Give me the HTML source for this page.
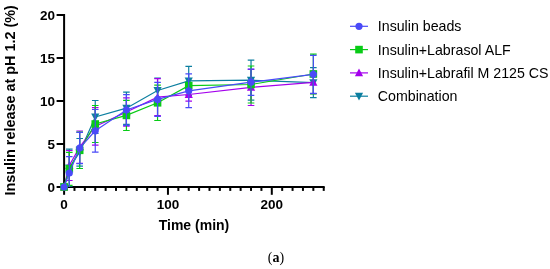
<!DOCTYPE html>
<html><head><meta charset="utf-8"><style>
html,body{margin:0;padding:0;background:#fff;}
body{width:550px;height:269px;overflow:hidden;}
svg{display:block;}
.tk{font-family:"Liberation Sans",Arial,sans-serif;font-weight:bold;font-size:13.5px;fill:#000;}
.ax{font-family:"Liberation Sans",Arial,sans-serif;font-weight:bold;font-size:14px;fill:#000;}
.lg{font-family:"Liberation Sans",Arial,sans-serif;font-size:14.2px;fill:#000;}
.cap{font-family:"Liberation Serif","Times New Roman",serif;font-size:14px;fill:#000;}
</style></head><body>
<svg width="550" height="269" viewBox="0 0 550 269">
<defs><clipPath id="pc"><rect x="0" y="0" width="550" height="187"/></clipPath></defs>
<rect width="550" height="269" fill="#fff"/>
<path d="M64.1,14V194.8" stroke="#000" stroke-width="2" fill="none"/>
<path d="M56.6,187H324.7" stroke="#000" stroke-width="2" fill="none"/>
<path d="M56.6,144.00H64.1" stroke="#000" stroke-width="2"/>
<path d="M56.6,101.00H64.1" stroke="#000" stroke-width="2"/>
<path d="M56.6,58.00H64.1" stroke="#000" stroke-width="2"/>
<path d="M56.6,15.00H64.1" stroke="#000" stroke-width="2"/>
<path d="M74.48,187V190.9" stroke="#000" stroke-width="2"/>
<path d="M84.87,187V190.9" stroke="#000" stroke-width="2"/>
<path d="M95.25,187V190.9" stroke="#000" stroke-width="2"/>
<path d="M105.64,187V190.9" stroke="#000" stroke-width="2"/>
<path d="M116.02,187V190.9" stroke="#000" stroke-width="2"/>
<path d="M126.41,187V190.9" stroke="#000" stroke-width="2"/>
<path d="M136.79,187V190.9" stroke="#000" stroke-width="2"/>
<path d="M147.18,187V190.9" stroke="#000" stroke-width="2"/>
<path d="M157.56,187V190.9" stroke="#000" stroke-width="2"/>
<path d="M167.95,187V194.8" stroke="#000" stroke-width="2"/>
<path d="M178.33,187V190.9" stroke="#000" stroke-width="2"/>
<path d="M188.72,187V190.9" stroke="#000" stroke-width="2"/>
<path d="M199.10,187V190.9" stroke="#000" stroke-width="2"/>
<path d="M209.49,187V190.9" stroke="#000" stroke-width="2"/>
<path d="M219.88,187V190.9" stroke="#000" stroke-width="2"/>
<path d="M230.26,187V190.9" stroke="#000" stroke-width="2"/>
<path d="M240.64,187V190.9" stroke="#000" stroke-width="2"/>
<path d="M251.03,187V190.9" stroke="#000" stroke-width="2"/>
<path d="M261.41,187V190.9" stroke="#000" stroke-width="2"/>
<path d="M271.80,187V194.8" stroke="#000" stroke-width="2"/>
<path d="M282.19,187V190.9" stroke="#000" stroke-width="2"/>
<path d="M292.57,187V190.9" stroke="#000" stroke-width="2"/>
<path d="M302.95,187V190.9" stroke="#000" stroke-width="2"/>
<path d="M313.34,187V190.9" stroke="#000" stroke-width="2"/>
<path d="M323.73,187V190.9" stroke="#000" stroke-width="2"/>
<g clip-path="url(#pc)">
<path d="M69.29,149.20V186.80M65.99,149.20H72.59M65.99,186.80H72.59" stroke="#0c7fa0" stroke-width="1.2" fill="none"/>
<path d="M79.68,138.50V166.10M76.38,138.50H82.98M76.38,166.10H82.98" stroke="#0c7fa0" stroke-width="1.2" fill="none"/>
<path d="M95.25,100.50V133.50M91.95,100.50H98.55M91.95,133.50H98.55" stroke="#0c7fa0" stroke-width="1.2" fill="none"/>
<path d="M126.41,92.10V124.30M123.11,92.10H129.71M123.11,124.30H129.71" stroke="#0c7fa0" stroke-width="1.2" fill="none"/>
<path d="M157.56,78.00V103.00M154.26,78.00H160.87M154.26,103.00H160.87" stroke="#0c7fa0" stroke-width="1.2" fill="none"/>
<path d="M188.72,66.40V95.40M185.42,66.40H192.02M185.42,95.40H192.02" stroke="#0c7fa0" stroke-width="1.2" fill="none"/>
<path d="M251.03,60.20V100.20M247.73,60.20H254.33M247.73,100.20H254.33" stroke="#0c7fa0" stroke-width="1.2" fill="none"/>
<path d="M313.34,67.60V97.60M310.04,67.60H316.64M310.04,97.60H316.64" stroke="#0c7fa0" stroke-width="1.2" fill="none"/>
<polyline points="64.10,187.00 69.29,168.00 79.68,152.30 95.25,117.00 126.41,108.20 157.56,90.50 188.72,80.90 251.03,80.20 313.34,82.60" stroke="#0c7fa0" stroke-width="1.2" fill="none"/>
</g><g>
<path d="M64.10,191.30L68.20,183.60L60.00,183.60Z" fill="#0c7fa0"/>
<path d="M69.29,172.30L73.39,164.60L65.19,164.60Z" fill="#0c7fa0"/>
<path d="M79.68,156.60L83.78,148.90L75.58,148.90Z" fill="#0c7fa0"/>
<path d="M95.25,121.30L99.35,113.60L91.16,113.60Z" fill="#0c7fa0"/>
<path d="M126.41,112.50L130.51,104.80L122.31,104.80Z" fill="#0c7fa0"/>
<path d="M157.56,94.80L161.66,87.10L153.47,87.10Z" fill="#0c7fa0"/>
<path d="M188.72,85.20L192.82,77.50L184.62,77.50Z" fill="#0c7fa0"/>
<path d="M251.03,84.50L255.13,76.80L246.93,76.80Z" fill="#0c7fa0"/>
<path d="M313.34,86.90L317.44,79.20L309.24,79.20Z" fill="#0c7fa0"/>
</g>
<g clip-path="url(#pc)">
<path d="M69.29,150.50V180.50M65.99,150.50H72.59M65.99,180.50H72.59" stroke="#a400ec" stroke-width="1.2" fill="none"/>
<path d="M79.68,131.00V163.40M76.38,131.00H82.98M76.38,163.40H82.98" stroke="#a400ec" stroke-width="1.2" fill="none"/>
<path d="M95.25,107.60V145.20M91.95,107.60H98.55M91.95,145.20H98.55" stroke="#a400ec" stroke-width="1.2" fill="none"/>
<path d="M126.41,97.80V126.20M123.11,97.80H129.71M123.11,126.20H129.71" stroke="#a400ec" stroke-width="1.2" fill="none"/>
<path d="M157.56,78.70V115.70M154.26,78.70H160.87M154.26,115.70H160.87" stroke="#a400ec" stroke-width="1.2" fill="none"/>
<path d="M188.72,87.90V101.10M185.42,87.90H192.02M185.42,101.10H192.02" stroke="#a400ec" stroke-width="1.2" fill="none"/>
<path d="M251.03,69.30V105.50M247.73,69.30H254.33M247.73,105.50H254.33" stroke="#a400ec" stroke-width="1.2" fill="none"/>
<path d="M313.34,71.10V93.70M310.04,71.10H316.64M310.04,93.70H316.64" stroke="#a400ec" stroke-width="1.2" fill="none"/>
<polyline points="64.10,187.00 69.29,165.50 79.68,147.20 95.25,126.40 126.41,112.00 157.56,97.20 188.72,94.50 251.03,87.40 313.34,82.40" stroke="#a400ec" stroke-width="1.2" fill="none"/>
</g><g>
<path d="M64.10,182.70L68.20,190.40L60.00,190.40Z" fill="#a400ec"/>
<path d="M69.29,161.20L73.39,168.90L65.19,168.90Z" fill="#a400ec"/>
<path d="M79.68,142.90L83.78,150.60L75.58,150.60Z" fill="#a400ec"/>
<path d="M95.25,122.10L99.35,129.80L91.16,129.80Z" fill="#a400ec"/>
<path d="M126.41,107.70L130.51,115.40L122.31,115.40Z" fill="#a400ec"/>
<path d="M157.56,92.90L161.66,100.60L153.47,100.60Z" fill="#a400ec"/>
<path d="M188.72,90.20L192.82,97.90L184.62,97.90Z" fill="#a400ec"/>
<path d="M251.03,83.10L255.13,90.80L246.93,90.80Z" fill="#a400ec"/>
<path d="M313.34,78.10L317.44,85.80L309.24,85.80Z" fill="#a400ec"/>
</g>
<g clip-path="url(#pc)">
<path d="M69.29,152.30V185.30M65.99,152.30H72.59M65.99,185.30H72.59" stroke="#08cb16" stroke-width="1.2" fill="none"/>
<path d="M79.68,132.10V168.50M76.38,132.10H82.98M76.38,168.50H82.98" stroke="#08cb16" stroke-width="1.2" fill="none"/>
<path d="M95.25,105.50V142.50M91.95,105.50H98.55M91.95,142.50H98.55" stroke="#08cb16" stroke-width="1.2" fill="none"/>
<path d="M126.41,100.30V130.50M123.11,100.30H129.71M123.11,130.50H129.71" stroke="#08cb16" stroke-width="1.2" fill="none"/>
<path d="M157.56,85.10V120.50M154.26,85.10H160.87M154.26,120.50H160.87" stroke="#08cb16" stroke-width="1.2" fill="none"/>
<path d="M188.72,82.60V88.60M185.42,82.60H192.02M185.42,88.60H192.02" stroke="#08cb16" stroke-width="1.2" fill="none"/>
<path d="M251.03,66.00V103.00M247.73,66.00H254.33M247.73,103.00H254.33" stroke="#08cb16" stroke-width="1.2" fill="none"/>
<path d="M313.34,54.20V93.80M310.04,54.20H316.64M310.04,93.80H316.64" stroke="#08cb16" stroke-width="1.2" fill="none"/>
<polyline points="64.10,187.00 69.29,168.80 79.68,150.30 95.25,124.00 126.41,115.40 157.56,102.80 188.72,85.60 251.03,84.50 313.34,74.00" stroke="#08cb16" stroke-width="1.2" fill="none"/>
</g><g>
<rect x="60.30" y="183.20" width="7.6" height="7.6" fill="#08cb16"/>
<rect x="65.49" y="165.00" width="7.6" height="7.6" fill="#08cb16"/>
<rect x="75.88" y="146.50" width="7.6" height="7.6" fill="#08cb16"/>
<rect x="91.45" y="120.20" width="7.6" height="7.6" fill="#08cb16"/>
<rect x="122.61" y="111.60" width="7.6" height="7.6" fill="#08cb16"/>
<rect x="153.76" y="99.00" width="7.6" height="7.6" fill="#08cb16"/>
<rect x="184.92" y="81.80" width="7.6" height="7.6" fill="#08cb16"/>
<rect x="247.23" y="80.70" width="7.6" height="7.6" fill="#08cb16"/>
<rect x="309.54" y="70.20" width="7.6" height="7.6" fill="#08cb16"/>
</g>
<g clip-path="url(#pc)">
<path d="M69.29,156.70V189.30M65.99,156.70H72.59M65.99,189.30H72.59" stroke="#4a4af8" stroke-width="1.2" fill="none"/>
<path d="M79.68,132.40V163.60M76.38,132.40H82.98M76.38,163.60H82.98" stroke="#4a4af8" stroke-width="1.2" fill="none"/>
<path d="M95.25,109.50V152.10M91.95,109.50H98.55M91.95,152.10H98.55" stroke="#4a4af8" stroke-width="1.2" fill="none"/>
<path d="M126.41,94.70V125.30M123.11,94.70H129.71M123.11,125.30H129.71" stroke="#4a4af8" stroke-width="1.2" fill="none"/>
<path d="M157.56,82.40V116.40M154.26,82.40H160.87M154.26,116.40H160.87" stroke="#4a4af8" stroke-width="1.2" fill="none"/>
<path d="M188.72,73.90V107.70M185.42,73.90H192.02M185.42,107.70H192.02" stroke="#4a4af8" stroke-width="1.2" fill="none"/>
<path d="M251.03,69.00V95.40M247.73,69.00H254.33M247.73,95.40H254.33" stroke="#4a4af8" stroke-width="1.2" fill="none"/>
<path d="M313.34,55.30V93.30M310.04,55.30H316.64M310.04,93.30H316.64" stroke="#4a4af8" stroke-width="1.2" fill="none"/>
<polyline points="64.10,187.00 69.29,173.00 79.68,148.00 95.25,130.80 126.41,110.00 157.56,99.40 188.72,90.80 251.03,82.20 313.34,74.30" stroke="#4a4af8" stroke-width="1.2" fill="none"/>
</g><g>
<circle cx="64.10" cy="187.00" r="3.6" fill="#4a4af8"/>
<circle cx="69.29" cy="173.00" r="3.6" fill="#4a4af8"/>
<circle cx="79.68" cy="148.00" r="3.6" fill="#4a4af8"/>
<circle cx="95.25" cy="130.80" r="3.6" fill="#4a4af8"/>
<circle cx="126.41" cy="110.00" r="3.6" fill="#4a4af8"/>
<circle cx="157.56" cy="99.40" r="3.6" fill="#4a4af8"/>
<circle cx="188.72" cy="90.80" r="3.6" fill="#4a4af8"/>
<circle cx="251.03" cy="82.20" r="3.6" fill="#4a4af8"/>
<circle cx="313.34" cy="74.30" r="3.6" fill="#4a4af8"/>
</g>
<text x="55" y="191.80" text-anchor="end" class="tk">0</text>
<text x="55" y="148.80" text-anchor="end" class="tk">5</text>
<text x="55" y="105.80" text-anchor="end" class="tk">10</text>
<text x="55" y="62.80" text-anchor="end" class="tk">15</text>
<text x="55" y="19.80" text-anchor="end" class="tk">20</text>
<text x="64.10" y="208.8" text-anchor="middle" class="tk">0</text>
<text x="167.95" y="208.8" text-anchor="middle" class="tk">100</text>
<text x="271.80" y="208.8" text-anchor="middle" class="tk">200</text>
<text class="ax" style="font-size:14.4px" transform="translate(15.1,100.4) rotate(-90)" text-anchor="middle">Insulin release at pH 1.2 (%)</text>
<text class="ax" x="194" y="230.2" text-anchor="middle">Time (min)</text>
<path d="M350,26.30H368" stroke="#4a4af8" stroke-width="1.2"/>
<circle cx="359.00" cy="26.30" r="3.6" fill="#4a4af8"/>
<text x="377.8" y="31.20" class="lg">Insulin beads</text>
<path d="M350,49.60H368" stroke="#08cb16" stroke-width="1.2"/>
<rect x="355.20" y="45.80" width="7.6" height="7.6" fill="#08cb16"/>
<text x="377.8" y="54.50" class="lg">Insulin+Labrasol ALF</text>
<path d="M350,72.90H368" stroke="#a400ec" stroke-width="1.2"/>
<path d="M359.00,68.60L363.10,76.30L354.90,76.30Z" fill="#a400ec"/>
<text x="377.8" y="77.80" class="lg">Insulin+Labrafil M 2125 CS</text>
<path d="M350,96.20H368" stroke="#0c7fa0" stroke-width="1.2"/>
<path d="M359.00,100.50L363.10,92.80L354.90,92.80Z" fill="#0c7fa0"/>
<text x="377.8" y="101.10" class="lg">Combination</text>
<text class="cap" x="276" y="261.8" text-anchor="middle">(<tspan font-weight="bold">a</tspan>)</text>
</svg>
</body></html>
